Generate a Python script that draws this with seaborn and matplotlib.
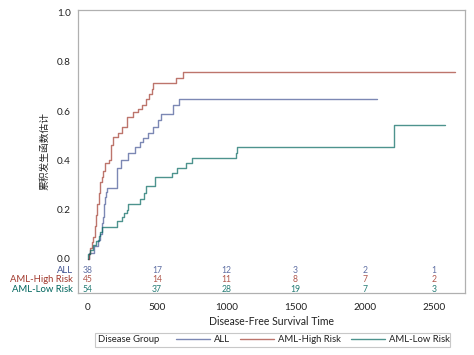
import matplotlib
matplotlib.use("Agg")
import matplotlib.pyplot as plt
import matplotlib.transforms as mtrans
from matplotlib.lines import Line2D
from matplotlib.patches import Rectangle
import numpy as np
import pandas as pd
import seaborn as sns

groups = ["ALL", "AML-High Risk", "AML-Low Risk"]
colors = ["#445694", "#A23A2E", "#01665E"]

# step times and cumulative incidence
all_t = [0, 10, 45, 75, 90, 100, 105, 110, 115, 120, 125, 130, 137, 209, 238, 293, 341,
         377, 401, 437, 473, 505, 529, 613, 661, 2085]
all_y = [0, 0.026, 0.053, 0.079, 0.1, 0.118, 0.145, 0.17, 0.2, 0.225, 0.25, 0.27, 0.29,
         0.37, 0.402, 0.43, 0.456, 0.473, 0.492, 0.51, 0.537, 0.565, 0.587, 0.625, 0.648, 0.648]

high_t = [0, 10, 17, 30, 40, 50, 60, 70, 80, 90, 100, 110, 125, 154, 168, 185, 216, 245,
          281, 325, 365, 394, 421, 442, 462, 473, 635, 690, 2650]
high_y = [0, 0.022, 0.044, 0.067, 0.089, 0.133, 0.178, 0.222, 0.267, 0.311, 0.333, 0.356,
          0.389, 0.402, 0.462, 0.496, 0.51, 0.537, 0.577, 0.598, 0.607, 0.625, 0.648, 0.668,
          0.69, 0.713, 0.733, 0.757, 0.757]

low_t = [0, 5, 20, 40, 60, 80, 90, 101, 214, 245, 264, 281, 293, 377, 408, 421, 486, 606,
         642, 709, 750, 1070, 1079, 2212, 2578]
low_y = [0, 0.019, 0.037, 0.056, 0.074, 0.093, 0.111, 0.131, 0.154, 0.172, 0.186, 0.2, 0.222,
         0.242, 0.267, 0.296, 0.334, 0.35, 0.368, 0.388, 0.408, 0.431, 0.453, 0.544, 0.544]

risk_times = [0, 500, 1000, 1500, 2000, 2500]
risk_all = [38, 17, 12, 3, 2, 1]
risk_high = [45, 14, 11, 8, 7, 2]
risk_low = [54, 37, 28, 19, 7, 3]

df = pd.concat([
    pd.DataFrame({"time": all_t, "cif": all_y, "group": "ALL"}),
    pd.DataFrame({"time": high_t, "cif": high_y, "group": "AML-High Risk"}),
    pd.DataFrame({"time": low_t, "cif": low_y, "group": "AML-Low Risk"}),
])

sns.set_style("white")
plt.rcParams["font.family"] = ["Lato", "DejaVu Sans", "Noto Sans CJK SC"]

fig = plt.figure(figsize=(4.74, 3.55), dpi=100)
ax = fig.add_axes([0.164, 0.1746, 0.817, 0.7986])

sns.lineplot(data=df, x="time", y="cif", hue="group", hue_order=groups, palette=colors,
             estimator=None, sort=False, drawstyle="steps-post", linewidth=1.0, alpha=0.7,
             legend=False, ax=ax)

ax.set_xlim(-72, 2722)
ax.set_ylim(-0.138, 1.012)
ax.set_xticks(risk_times)
ax.set_yticks(np.arange(0, 1.01, 0.2))
ax.set_yticklabels([f"{v:.1f}" for v in np.arange(0, 1.01, 0.2)])
ax.tick_params(axis="both", labelsize=7.2, colors="#aaaaaa", labelcolor="#222222",
               length=3, width=0.8, direction="out", pad=2)
ax.tick_params(axis="x", pad=4)
for sp in ax.spines.values():
    sp.set_color("#b0b0b0")
    sp.set_linewidth(0.9)

ax.set_xlabel("Disease-Free Survival Time", fontsize=7.6, color="#222222", labelpad=3)
ax.set_ylabel("累积发生函数估计", fontsize=7, color="#222222",
              family=["Noto Sans CJK SC", "DejaVu Sans"], labelpad=5)

# at-risk table inside the plot
row_y = [-0.047, -0.085, -0.123]
blend = mtrans.blended_transform_factory(ax.transAxes, ax.transData)
for name, col, counts, yy in zip(groups, colors, [risk_all, risk_high, risk_low], row_y):
    for t, n in zip(risk_times, counts):
        ax.text(t, yy, str(n), color=col, alpha=0.85, fontsize=6.2, ha="center", va="center")
    ax.text(-0.012, yy, name, color=col, fontsize=6.8, ha="right", va="center",
            transform=blend)

# legend box below the plot
fig.patches.append(Rectangle((95 / 474, 1 - 347 / 355), 355 / 474, 14 / 355,
                             transform=fig.transFigure, fill=False,
                             edgecolor="#c8c8c8", linewidth=0.8))
fig.text(98 / 474, 1 - 340 / 355, "Disease Group", fontsize=6.8, color="#222222",
         ha="left", va="center")
handles = [Line2D([], [], color=c, linewidth=1.0, alpha=0.7) for c in colors]
fig.legend(handles, groups, loc="center left", bbox_to_anchor=(176 / 474, 1 - 340 / 355),
           ncol=3, frameon=False, fontsize=6.8, handlelength=3.6, handletextpad=0.42,
           columnspacing=1.06, borderpad=0, borderaxespad=0, labelcolor="#222222")

fig.savefig("out.png", dpi=100)
